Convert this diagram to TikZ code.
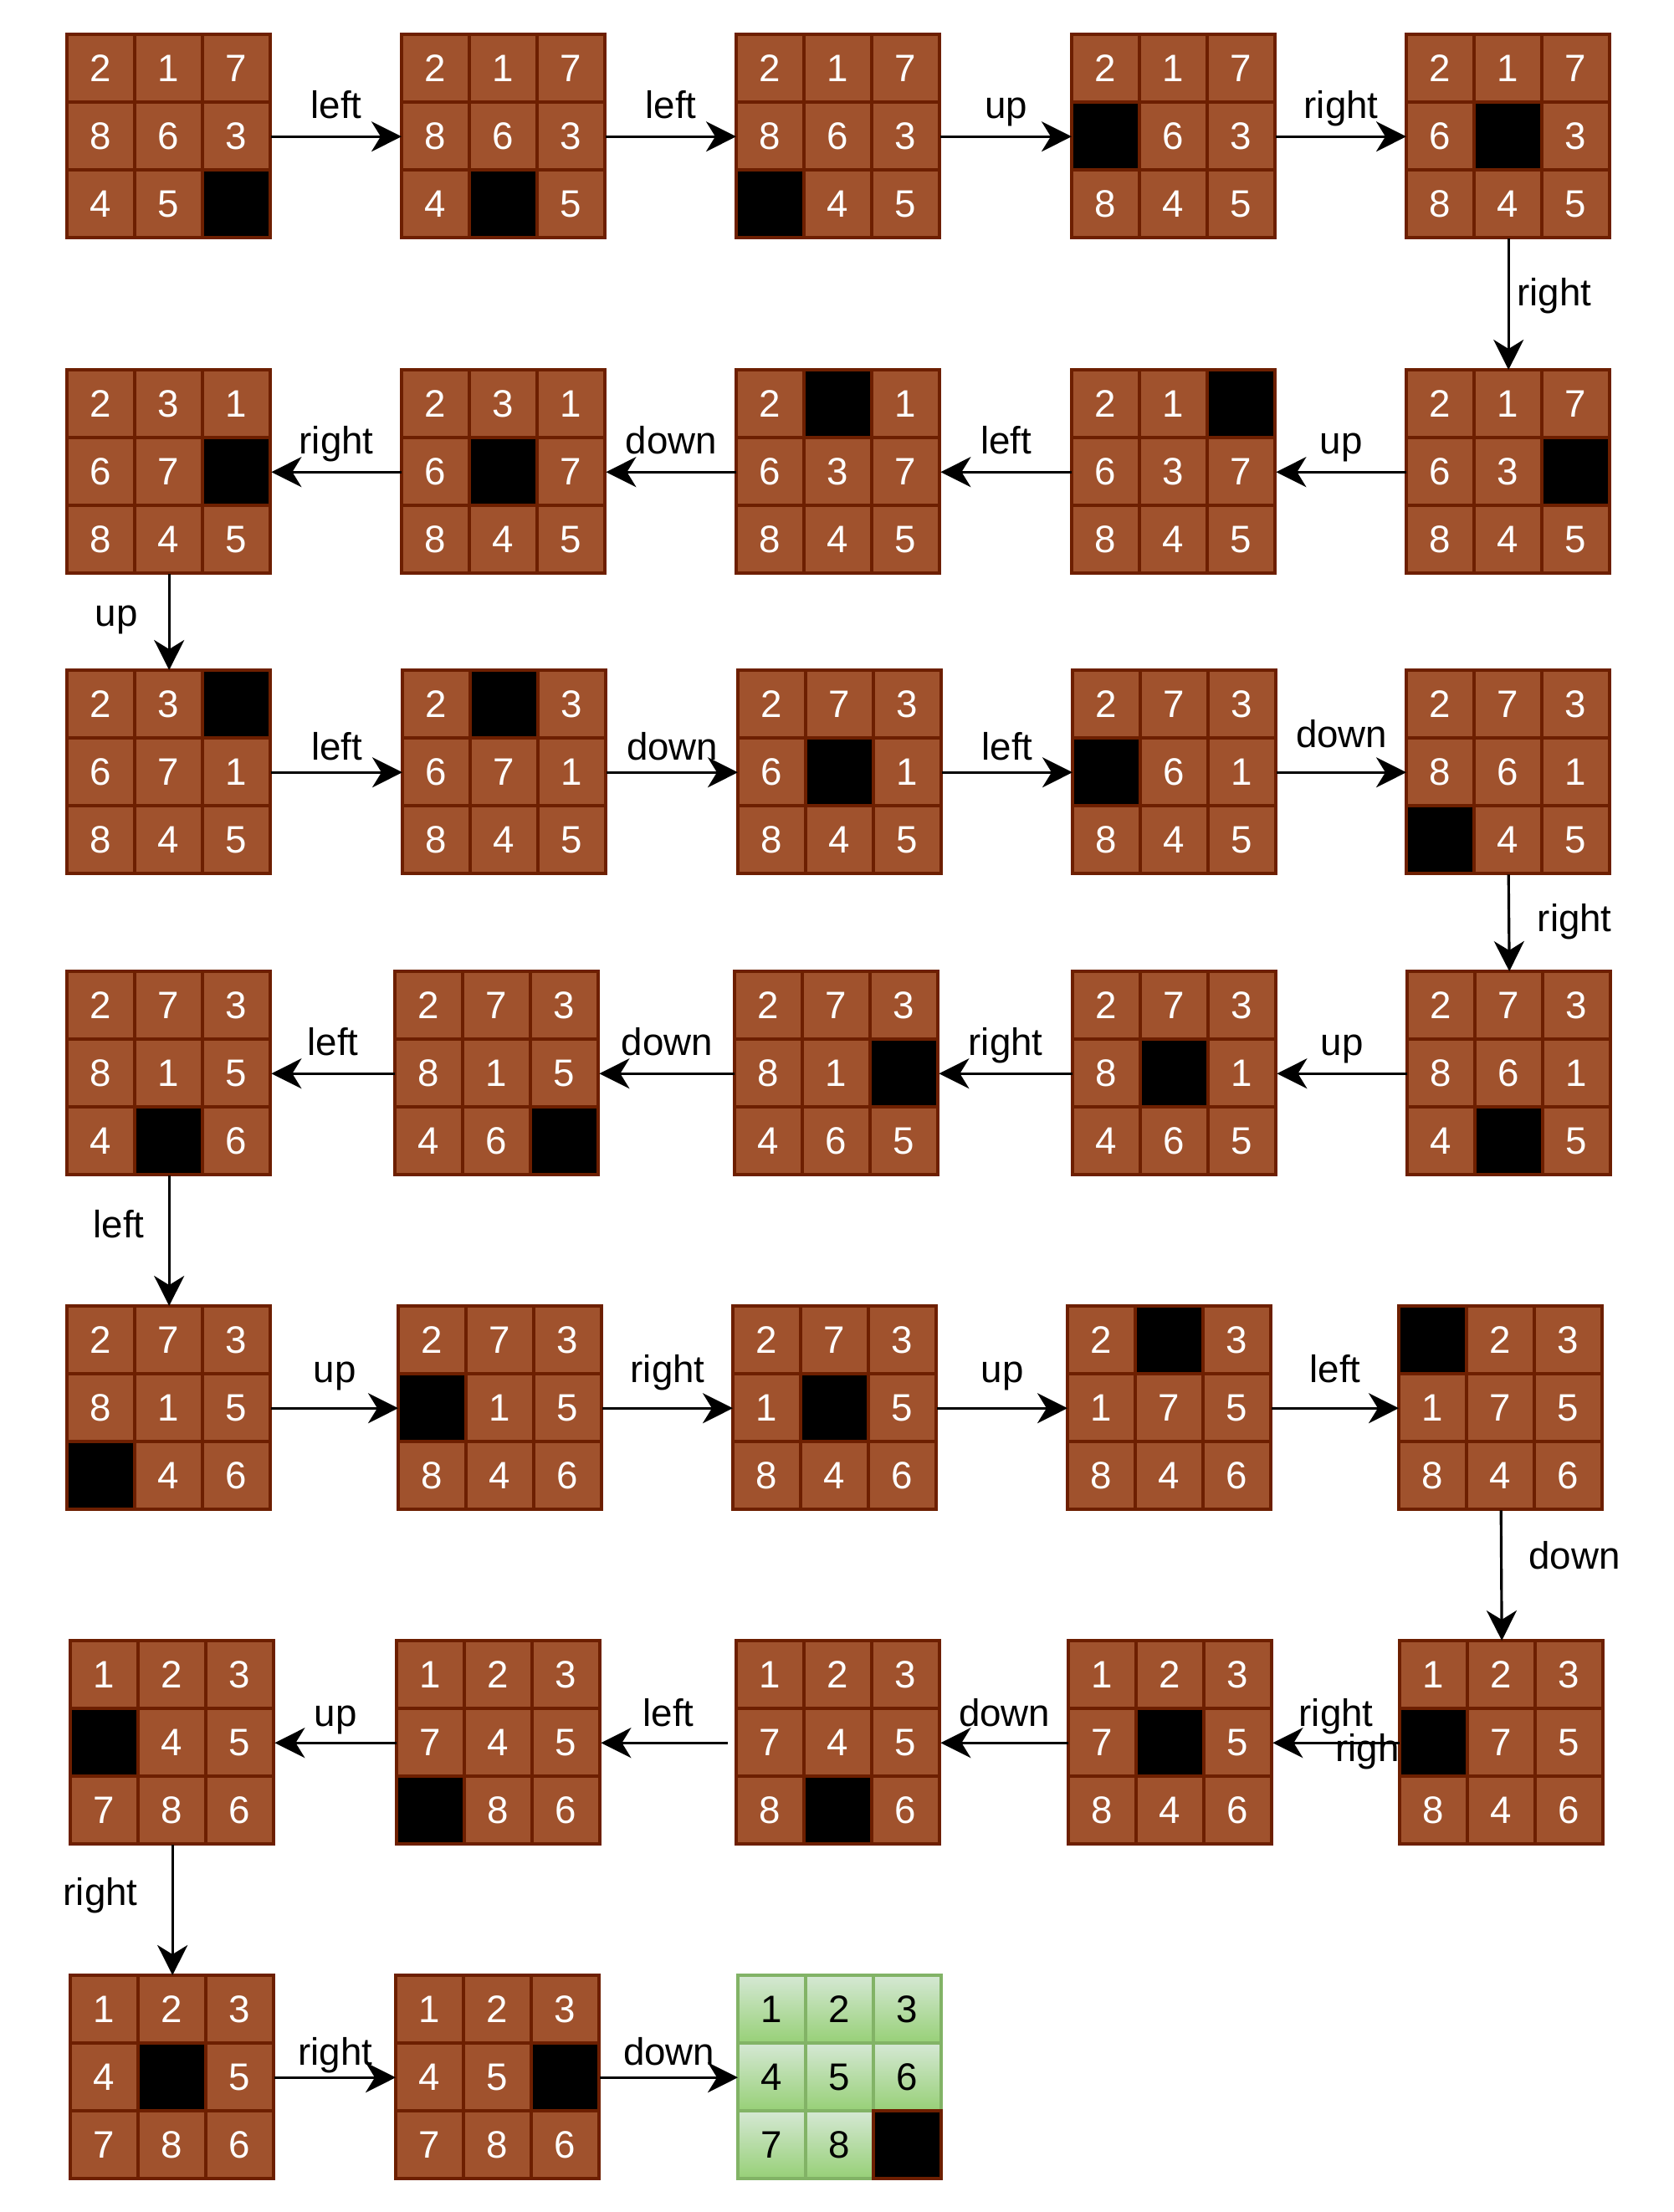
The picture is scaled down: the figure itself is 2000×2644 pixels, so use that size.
\documentclass[tikz,border=0pt]{standalone}
\usepackage{fontspec}
\setmainfont{Liberation Sans}
\usetikzlibrary{arrows.meta,calc,backgrounds}
\definecolor{tilefill}{HTML}{A0522D}
\definecolor{tileedge}{HTML}{6D1F00}
\definecolor{goaltop}{HTML}{D5E8D4}
\definecolor{goalbottom}{HTML}{97D077}
\definecolor{goaledge}{HTML}{82B366}
\tikzset{%
	board/.style  = {inner sep=0pt, minimum size=24.3mm, anchor=north west}, % one puzzle state
	tile/.style   = {draw=tileedge, fill=tilefill, line width=1pt, minimum size=8.1mm, inner sep=0pt, text=white, font=\fontsize{13}{15}\selectfont},
	goal/.style   = {tile, draw=goaledge, top color=goaltop, bottom color=goalbottom, text=black}, % solved state
	hole/.style   = {tile, fill=black}, % empty square
	move/.style   = {line width=0.9pt, -{Stealth[length=3.6mm, width=3.6mm, inset=1.1mm]}},
	lbl/.style    = {inner sep=0pt, font=\fontsize{13}{15}\selectfont},
	hlbl/.style   = {lbl, midway, anchor=base, yshift=#1},
	hlbl/.default = 2.2mm,
}
% #1 tile style, #2 name, #3 top left corner, #4 the nine entries (0 = empty)
\newcommand{\board}[4][tile]{%
	\node[board] (#2) at (#3) {};
	\foreach \val [count=\k from 0] in {#4} {
		\pgfmathtruncatemacro{\cx}{mod(\k,3)}
		\pgfmathtruncatemacro{\cy}{div(\k,3)}
		\ifnum\val=0
			\node[hole] (#2-\k) at ($(#2.north west)+(40.5+81*\cx,40.5+81*\cy)$) {};
		\else
			\node[#1] (#2-\k) at ($(#2.north west)+(40.5+81*\cx,40.5+81*\cy)$) {\val};
		\fi
	}%
}
\begin{document}
\begin{tikzpicture}[x=0.1mm, y=-0.1mm]
	\useasboundingbox (0,0) rectangle (2000,2644);
	
	% row 1
	\board{g1}{80,41}{2,1,7,8,6,3,4,5,0}
	\board{g2}{480,41}{2,1,7,8,6,3,4,0,5}
	\board{g3}{880,41}{2,1,7,8,6,3,0,4,5}
	\board{g4}{1281,41}{2,1,7,0,6,3,8,4,5}
	\board{g5}{1681,41}{2,1,7,6,0,3,8,4,5}
	% row 2
	\board{g6}{1681,442}{2,1,7,6,3,0,8,4,5}
	\board{g7}{1281,442}{2,1,0,6,3,7,8,4,5}
	\board{g8}{880,442}{2,0,1,6,3,7,8,4,5}
	\board{g9}{480,442}{2,3,1,6,0,7,8,4,5}
	\board{g10}{80,442}{2,3,1,6,7,0,8,4,5}
	% row 3
	\board{g11}{80,801}{2,3,0,6,7,1,8,4,5}
	\board{g12}{481,801}{2,0,3,6,7,1,8,4,5}
	\board{g13}{882,801}{2,7,3,6,0,1,8,4,5}
	\board{g14}{1282,801}{2,7,3,0,6,1,8,4,5}
	\board{g15}{1681,801}{2,7,3,8,6,1,0,4,5}
	% row 4
	\board{g16}{1682,1161}{2,7,3,8,6,1,4,0,5}
	\board{g17}{1282,1161}{2,7,3,8,0,1,4,6,5}
	\board{g18}{878,1161}{2,7,3,8,1,0,4,6,5}
	\board{g19}{472,1161}{2,7,3,8,1,5,4,6,0}
	\board{g20}{80,1161}{2,7,3,8,1,5,4,0,6}
	% row 5
	\board{g21}{80,1561}{2,7,3,8,1,5,0,4,6}
	\board{g22}{476,1561}{2,7,3,0,1,5,8,4,6}
	\board{g23}{876,1561}{2,7,3,1,0,5,8,4,6}
	\board{g24}{1276,1561}{2,0,3,1,7,5,8,4,6}
	\board{g25}{1672,1561}{0,2,3,1,7,5,8,4,6}
	% row 6
	\board{g26}{1673,1961}{1,2,3,0,7,5,8,4,6}
	\board{g27}{1277,1961}{1,2,3,7,0,5,8,4,6}
	\board{g28}{880,1961}{1,2,3,7,4,5,8,0,6}
	\board{g29}{474,1961}{1,2,3,7,4,5,0,8,6}
	\board{g30}{84,1961}{1,2,3,0,4,5,7,8,6}
	% row 7
	\board{g31}{84,2361}{1,2,3,4,0,5,7,8,6}
	\board{g32}{473,2361}{1,2,3,4,5,0,7,8,6}
	\board[goal]{g33}{882,2361}{1,2,3,4,5,6,7,8,0}
	
	% label hidden behind g26
	\begin{scope}[on background layer]
	\node[lbl, anchor=base] (g26-dup) at (1641,2105) {right};
	\end{scope}
	
	\draw[move] (g1.east) -- node[hlbl] {left} (g2.west);
	\draw[move] (g2.east) -- node[hlbl] {left} (g3.west);
	\draw[move] (g3.east) -- node[hlbl] {up} (g4.west);
	\draw[move] (g4.east) -- node[hlbl] {right} (g5.west);
	\draw[move] (g5.south) -- node[lbl, midway, anchor=west, xshift=0.85mm, yshift=1mm] {right} (g6.north);
	
	\draw[move] (g6.west) -- node[hlbl] {up} (g7.east);
	\draw[move] (g7.west) -- node[hlbl] {left} (g8.east);
	\draw[move] (g8.west) -- node[hlbl] {down} (g9.east);
	\draw[move] (g9.west) -- node[hlbl] {right} (g10.east);
	\draw[move] (g10.south) -- node[lbl, midway, anchor=east, xshift=-3.6mm, yshift=0.3mm] {up} (g11.north);
	
	\draw[move] (g11.east) -- node[hlbl=1.5mm] {left} (g12.west);
	\draw[move] (g12.east) -- node[hlbl=1.5mm] {down} (g13.west);
	\draw[move] (g13.east) -- node[hlbl=1.5mm] {left} (g14.west);
	\draw[move] (g14.east) -- node[hlbl=3mm] {down} (g15.west);
	\draw[move] (g15.south) -- node[lbl, midway, anchor=west, xshift=3.25mm, yshift=0.2mm] {right} (g16.north);
	
	\draw[move] (g16.west) -- node[hlbl] {up} (g17.east);
	\draw[move] (g17.west) -- node[hlbl] {right} (g18.east);
	\draw[move] (g18.west) -- node[hlbl] {down} (g19.east);
	\draw[move] (g19.west) -- node[hlbl] {left} (g20.east);
	\draw[move] (g20.south) -- node[lbl, midway, anchor=east, xshift=-2.8mm, yshift=2mm] {left} (g21.north);
	
	\draw[move] (g21.east) -- node[hlbl=3.1mm] {up} (g22.west);
	\draw[move] (g22.east) -- node[hlbl=3.1mm] {right} (g23.west);
	\draw[move] (g23.east) -- node[hlbl=3.1mm] {up} (g24.west);
	\draw[move] (g24.east) -- node[hlbl=3.1mm] {left} (g25.west);
	\draw[move] (g25.south) -- node[lbl, midway, anchor=west, xshift=3.1mm, yshift=2.4mm] {down} (g26.north);
	
	\draw[move] (g26.west) -- node[hlbl=2mm] {right} (g27.east);
	\draw[move] (g27.west) -- node[hlbl=2mm] {down} (g28.east);
	\draw[move, shorten <=1mm] (g28.west) -- node[hlbl=2mm] {left} (g29.east);
	\draw[move] (g29.west) -- node[hlbl=2mm] {up} (g30.east);
	\draw[move] (g30.south) -- node[lbl, midway, anchor=east, xshift=-4mm, yshift=1.8mm] {right} (g31.north);
	
	\draw[move] (g31.east) -- node[hlbl=1.5mm] {right} (g32.west);
	\draw[move] (g32.east) -- node[hlbl=1.5mm] {down} (g33.west);
\end{tikzpicture}
\end{document}
